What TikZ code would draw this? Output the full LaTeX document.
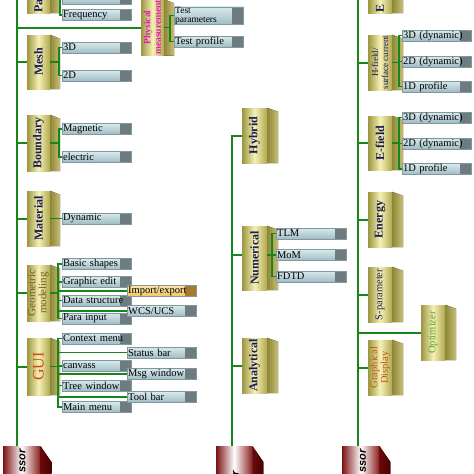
\documentclass[tikz,border=0pt]{standalone}
\usepackage{fontspec}
\setmainfont{Liberation Serif}
\newfontfamily\procfont{Liberation Sans}
\usetikzlibrary{calc}
\definecolor{gl}{HTML}{17861A}
\definecolor{goldA}{HTML}{9C9640}
\definecolor{goldB}{HTML}{F5F1B5}
\definecolor{goldC}{HTML}{B0A850}
\definecolor{sideA}{HTML}{8E8838}
\definecolor{sideB}{HTML}{C8C078}
\definecolor{barA}{HTML}{D8EAEE}
\definecolor{barB}{HTML}{A0BCC4}
\definecolor{barC}{HTML}{8098A0}
\definecolor{barD}{HTML}{6E7C80}
\definecolor{ybA}{HTML}{FBE6A8}
\definecolor{ybB}{HTML}{F2C466}
\definecolor{ybD}{HTML}{A87A2E}
\definecolor{redA}{HTML}{7D1414}
\definecolor{redC}{HTML}{8A2020}
\definecolor{redS}{HTML}{4A0000}
\definecolor{redT}{HTML}{6A0A0A}
\definecolor{navy}{HTML}{1A1A55}
\definecolor{geoc}{HTML}{7A5A20}
\definecolor{guic}{HTML}{D04A10}
\definecolor{physc}{HTML}{E41CB0}
\definecolor{optc}{HTML}{5AA830}
\definecolor{gdc}{HTML}{C05A10}
\tikzset{
  gline/.style={draw=gl, line width=2pt},
  bline/.style={draw=gl, line width=1.3pt},
  gfront/.style={draw=none, inner sep=0pt, left color=goldA, right color=goldC, middle color=goldB},
  gside/.style={left color=sideA, right color=sideB},
  rfront/.style={draw=none, inner sep=0pt, anchor=north west, minimum height=40pt, left color=redA, right color=redC, middle color=white},
  rside/.style={left color=redT, right color=redS},
  lbl/.style={rotate=90, inner sep=0pt, align=center},
  bl/.style={font=\bfseries\fontsize{12}{13}\selectfont, text=navy},
  proc/.style={rotate=90, anchor=east, inner sep=0pt, font=\procfont\bfseries\itshape\fontsize{11}{12}\selectfont},
  basebar/.style n args={3}{anchor=west, minimum height=11pt, text width=67pt, inner xsep=1pt, inner ysep=0pt, align=left, font=\fontsize{10.5}{10.5}\selectfont, top color=#1, bottom color=#2, draw=barC, line width=0.3pt,
    path picture={\fill[#3] ([xshift=-11pt]path picture bounding box.north east) rectangle (path picture bounding box.south east);}},
  lbar/.style={basebar={barA}{barB}{barD}},
  ybar/.style={basebar={ybA}{ybB}{ybD}},
}
\newcommand\gbox[6]{%
  \node[gfront, minimum width=#4pt, minimum height=#5pt] (#1) at (#2,#3) {};
  \fill[gside] (#1.north east) -- ++(#6,4) -- ($(#1.south east)+(#6,0)$) -- (#1.south east) -- cycle;
}
\begin{document}
\begin{tikzpicture}[x=1pt,y=-1pt]
\useasboundingbox (0,0) rectangle (474,474);
\fill[white] (0,0) rectangle (474,474);
\clip (0,0) rectangle (474,474);

% ---------- bottom boxes ----------
\node[rfront, minimum width=37pt] (pre) at (3,446) {};
\fill[rside] (pre.north east) -- ++(11,16) -- ($(pre.south east)+(11,0)$) -- (pre.south east) -- cycle;
\node[proc] (pre-t) at (22.5,449) {ssor};
\node[rfront, minimum width=36pt] (sol) at (216,446) {};
\fill[rside] (sol.north east) -- ++(11,16) -- ($(sol.south east)+(11,0)$) -- (sol.south east) -- cycle;
\node[proc] (sol-t) at (235,471.5) {Solver};
\node[rfront, minimum width=37pt] (post) at (342,446) {};
\fill[rside] (post.north east) -- ++(11,16) -- ($(post.south east)+(11,0)$) -- (post.south east) -- cycle;
\node[proc] (post-t) at (363,449) {ssor};

\coordinate (Ltop) at (17,-5);
\coordinate (Lbot) at ($(pre.north west)+(14,0)$);
\coordinate (Mbot) at ($(sol.north west)+(16,0)$);
\coordinate (Rtop) at (358,-5);
\coordinate (Rbot) at ($(post.north west)+(16,0)$);

% ---------- left column boxes ----------
\gbox{pa}{38.5}{-3.5}{23}{33}{10}
\node[lbl, bl, anchor=west] (pa-t) at (38.5,13) {Pa};
\gbox{mesh}{38.5}{62}{23}{54}{10}
\node[lbl, bl] (mesh-t) at (mesh) {Mesh};
\gbox{bnd}{38.5}{143}{23}{56}{10}
\node[lbl, bl] (bnd-t) at (bnd) {Boundary};
\gbox{mat}{38.5}{218.5}{23}{55}{10}
\node[lbl, bl] (mat-t) at (mat) {Material};
\gbox{geo}{38.5}{293}{23}{56}{10}
\node[lbl, text=geoc, font=\fontsize{11}{11}\selectfont] (geo-t) at (geo) {Geometric\\modeling};
\gbox{gui}{38.5}{366.5}{23}{57}{10}
\node[lbl, text=guic, font=\fontsize{16}{16}\selectfont] (gui-t) at (gui) {GUI};
\gbox{phys}{152.5}{27.5}{23}{56}{10}
\node[lbl, text=physc, font=\bfseries\fontsize{9.5}{10.5}\selectfont] (phys-t) at (phys) {Physical\\measurement};

% ---------- middle column boxes ----------
\gbox{hyb}{254.5}{135.5}{25}{55}{11}
\node[lbl, bl] (hyb-t) at (hyb) {Hybrid};
\gbox{num}{254.5}{258}{25}{64}{11}
\node[lbl, bl] (num-t) at (num) {Numerical};
\gbox{ana}{254.5}{365.5}{25}{55}{11}
\node[lbl, bl] (ana-t) at (ana) {Analytical};

% ---------- right column boxes ----------
\gbox{etop}{380}{-3.5}{24}{33}{11}
\node[lbl, bl, anchor=west] (etop-t) at (380,13) {E};
\gbox{hf}{380}{62.5}{24}{55}{11}
\node[lbl, text=navy, font=\fontsize{9}{10}\selectfont] (hf-t) at (hf) {H-field/\\surface current};
\gbox{ef}{380}{143}{24}{54}{11}
\node[lbl, bl] (ef-t) at (ef) {E-field};
\gbox{en}{380}{219.5}{24}{55}{11}
\node[lbl, bl] (en-t) at (en) {Energy};
\gbox{sp}{380}{294.5}{24}{55}{11}
\node[lbl, text=navy, font=\fontsize{10.5}{11}\selectfont] (sp-t) at (sp) {S-parameter};
\gbox{gd}{380}{367.5}{24}{55}{11}
\node[lbl, text=gdc, font=\fontsize{10.5}{10.5}\selectfont] (gd-t) at (gd) {Graphical\\Display};
\gbox{opt}{433}{332.5}{24}{55}{11}
\node[lbl, text=optc, font=\fontsize{10.5}{11}\selectfont] (opt-t) at (opt) {Optimizer};

% ---------- main lines ----------
\draw[gline] (Ltop) -- (Lbot);
\foreach \b in {mesh,bnd,mat,geo,gui,phys} \draw[gline] (Ltop |- \b.west) -- (\b.west);
\draw[gline] (hyb.west) -| (Mbot);
\draw[gline] (Mbot |- ana.west) -- (ana.west);
\draw[gline] (Rtop) -- (Rbot);
\foreach \b in {hf,ef,en,sp,gd,opt} \draw[gline] (Rtop |- \b.west) -- (\b.west);

% ---------- bars ----------
\node[lbar] (pa1) at (62,-1.5) {};
\node[lbar] (freq) at (62,15) {Frequency};
\node[lbar] (m3d) at (62,47.5) {3D};
\node[lbar] (m2d) at (62,75.5) {2D};
\node[lbar] (bmag) at (62,129) {Magnetic};
\node[lbar] (bele) at (62,157) {electric};
\node[lbar] (mdyn) at (62,218.5) {Dynamic};
\node[lbar] (gbs) at (62,264) {Basic shapes};
\node[lbar] (gge) at (62,282) {Graphic edit};
\node[lbar] (gds) at (62,300.5) {Data structure};
\node[lbar] (gpi) at (62,318.5) {Para input};
\node[lbar] (ucm) at (62,338.5) {Context menu};
\node[lbar] (ucv) at (62,366) {canvass};
\node[lbar] (utw) at (62,385.5) {Tree window};
\node[lbar] (umm) at (62,407) {Main menu};
\node[ybar] (gie) at (127,291) {Import/export};
\node[lbar] (gwcs) at (127,311) {WCS/UCS};
\node[lbar] (usb) at (127,352.5) {Status bar};
\node[lbar] (umw) at (127,374) {Msg window};
\node[lbar] (utb) at (127,397) {Tool bar};
\node[lbar, font=\fontsize{9.5}{9}\selectfont] (tpar) at (174,15.5) {Test\\parameters};
\node[lbar] (tprof) at (174,41.5) {Test profile};
\node[lbar, text width=68pt] (tlm) at (276,233.5) {TLM};
\node[lbar, text width=68pt] (mom) at (276,255) {MoM};
\node[lbar, text width=68pt] (fdtd) at (276,276.5) {FDTD};
\node[lbar] (h3) at (402,35.5) {3D (dynamic)};
\node[lbar] (h2) at (402,61.5) {2D (dynamic)};
\node[lbar] (h1) at (402,86.5) {1D profile};
\node[lbar] (e3) at (402,117.5) {3D (dynamic)};
\node[lbar] (e2) at (402,143.5) {2D (dynamic)};
\node[lbar] (e1) at (402,169) {1D profile};

% ---------- brackets ----------
\draw[bline] (pa1.west) -- ++(-2,0) |- (freq.west);
\draw[bline] (m3d.west) -- ++(-3,0) coordinate (mb) |- (m2d.west);
\draw[bline] (mesh.east) -- (mb |- mesh.east);
\draw[bline] (bmag.west) -- ++(-3,0) coordinate (bb) |- (bele.west);
\draw[bline] (bnd.east) -- (bb |- bnd.east);
\draw[bline] (mat.east) -- (mdyn.west);
\draw[bline] (gbs.west) -- ++(-4,0) coordinate (gb) |- (gpi.west);
\foreach \c in {gge,gds,gie,gwcs} \draw[bline] (gb |- \c.west) -- (\c.west);
\draw[bline] (geo.east) -- (gb |- geo.east);
\draw[bline] (ucm.west) -- ++(-4,0) coordinate (ub) |- (umm.west);
\foreach \c in {usb,ucv,umw,utw,utb} \draw[bline] (ub |- \c.west) -- (\c.west);
\draw[bline] (gui.east) -- (ub |- gui.east);
\draw[bline] (tpar.west) -- ++(-4,0) coordinate (pb) |- (tprof.west);
\draw[bline] (phys.east) -- (pb |- phys.east);
\draw[bline] (tlm.west) -- ++(-4,0) coordinate (nb) |- (fdtd.west);
\draw[bline] (num.east |- mom.west) -- (mom.west);
\draw[gline] (Mbot |- mom.west) -- (num.west |- mom.west);
\draw[bline] (h3.west) -- ++(-3,0) coordinate (hb) |- (h1.west);
\draw[bline] (hb |- h2.west) -- (h2.west);
\draw[bline] (hf.east) -- (hb |- hf.east);
\draw[bline] (e3.west) -- ++(-3,0) coordinate (eb) |- (e1.west);
\draw[bline] (eb |- e2.west) -- (e2.west);
\draw[bline] (ef.east) -- (eb |- ef.east);
\end{tikzpicture}
\end{document}
